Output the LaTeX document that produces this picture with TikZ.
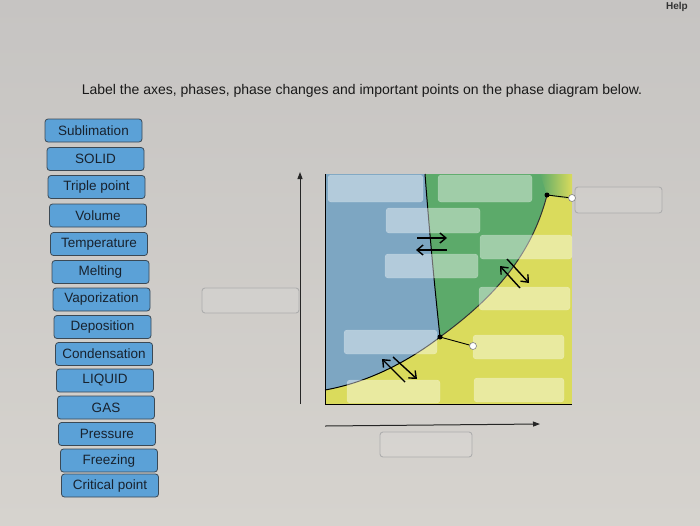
\documentclass[tikz,border=0pt]{standalone}
\usepackage{fontspec}
\setmainfont{Liberation Sans}
\usetikzlibrary{arrows.meta}
\definecolor{bgTop}{HTML}{C6C4C2}
\definecolor{bgMid}{HTML}{DEDCD8}
\definecolor{bgLow}{HTML}{D6D3CE}
\definecolor{btnBlue}{HTML}{5BA1D7}
\definecolor{btnEdge}{HTML}{3B4955}
\definecolor{btnText}{HTML}{18222E}
\definecolor{solidBlue}{HTML}{7DA6C2}
\definecolor{liquidGreen}{HTML}{5CAA6A}
\definecolor{gasYellow}{HTML}{DADB5C}
\colorlet{slotEdge}{black!32}
\tikzset{
  btn/.style={draw=btnEdge, line width=0.8pt, fill=btnBlue, rounded corners=3pt,
    minimum width=97pt, minimum height=23pt, inner sep=0pt, text=btnText,
    font=\fontsize{13.5}{15}\selectfont},
  slot/.style={fill=white, fill opacity=0.42, draw=white, draw opacity=0.3, rounded corners=3pt},
  outslot/.style={draw=slotEdge, line width=0.9pt, fill=white, fill opacity=0.08, rounded corners=3pt},
  curve/.style={black, line width=1pt},
  swap/.style={black, line width=1.4pt, -{Straight Barb[length=6pt,width=10pt]}},
  axis/.style={black!85, line width=1pt, -{Triangle[length=7pt,width=5pt]}},
  pin/.style={circle, draw=gray, fill=white, line width=0.6pt, inner sep=0pt, minimum size=7pt},
  dot/.style={circle, fill=black, inner sep=0pt, minimum size=5pt}
}

\begin{document}
\begin{tikzpicture}[x=1pt, y=-1pt]
  \useasboundingbox (0,0) rectangle (700,525);
  \clip (0,0) rectangle (700,525);
  \shade[top color=bgTop, middle color=bgMid, bottom color=bgLow] (0,0) rectangle (700,525);
  \node[anchor=base, font=\bfseries\fontsize{10}{12}\selectfont, text=black!80] (help) at (677,9) {Help};

  \node[font=\fontsize{14}{16}\selectfont, text=black!90] (task) at (362,91)
    {Label the axes, phases, phase changes and important points on the phase diagram below.};

  % answer buttons
  \node[btn] (sublimation) at (93.5,130.5) {Sublimation};
  \node[btn] (solid) at (95.5,159) {SOLID};
  \node[btn] (triple) at (96.5,187) {Triple point};
  \node[btn] (volume) at (98,215.5) {Volume};
  \node[btn] (temperature) at (99,244) {Temperature};
  \node[btn] (melting) at (100.5,272) {Melting};
  \node[btn] (vaporization) at (101.5,299.5) {Vaporization};
  \node[btn] (deposition) at (102.5,327) {Deposition};
  \node[btn] (condensation) at (104,354) {Condensation};
  \node[btn] (liquid) at (105,380.5) {LIQUID};
  \node[btn] (gas) at (106,407.5) {GAS};
  \node[btn] (pressure) at (107,434) {Pressure};
  \node[btn] (freezing) at (109,460.5) {Freezing};
  \node[btn] (critical) at (110,485.5) {Critical point};

  % phase regions
  \coordinate (tp) at (440,337);
  \coordinate (cp) at (547,195);
  \fill[gasYellow] (325,174) rectangle (572,404);
  \fill[solidBlue] (325,174) -- (425,174) .. controls (430,240) and (436,300) .. (tp)
    .. controls (410,360) and (370,382) .. (325,390) -- cycle;
  \fill[liquidGreen] (425,174) -- (552,174) -- (cp)
    .. controls (530,262) and (485,304) .. (tp)
    .. controls (436,300) and (430,240) .. (425,174) -- cycle;
  \shade[left color=liquidGreen, right color=gasYellow] (540,174) -- (572,174) -- (572,200) -- (cp) -- cycle;

  % boundary lines
  \draw[curve] (325,174) -- (325,404) -- (572,404);
  \draw[curve] (425,174) .. controls (430,240) and (436,300) .. (tp);
  \draw[curve] (325,390) .. controls (370,382) and (410,360) .. (tp);
  \draw[curve, black!80] (tp) .. controls (485,304) and (530,262) .. (cp);

  % drop slots
  \path[slot] (328,175) rectangle (423,202);
  \path[slot] (438,175) rectangle (532,202);
  \path[slot] (386,208) rectangle (480,233);
  \path[slot] (480,235) rectangle (572,259);
  \path[slot] (385,254) rectangle (478,278);
  \path[slot] (479,287) rectangle (570,310);
  \path[slot] (344,330) rectangle (437,354);
  \path[slot] (473,335) rectangle (564,359);
  \path[slot] (347,380) rectangle (440,403);
  \path[slot] (474,378) rectangle (564,402);
  \path[outslot] (575,187) rectangle (662,213);
  \path[outslot] (202,288) rectangle (299,313);
  \path[outslot] (380,432) rectangle (472,457);

  % phase change arrows
  \draw[swap] (417,238) -- (447,238);
  \draw[swap] (447,250) -- (416,250);
  \draw[swap] (520,288) -- (500,266);
  \draw[swap] (507,259) -- (529,283);
  \draw[swap] (405,382) -- (382,359);
  \draw[swap] (393,357) -- (417,379);

  % points
  \node[pin] (tppin) at (473,346) {};
  \node[pin] (cppin) at (572,198) {};
  \draw[black, line width=0.9pt] (tp) -- (tppin);
  \draw[black, line width=0.9pt] (cp) -- (cppin);
  \node[dot] (tpdot) at (tp) {};
  \node[dot] (cpdot) at (cp) {};

  % axes
  \coordinate (yfoot) at (300,404);
  \coordinate (ytip) at (300,172);
  \coordinate (xfoot) at (325,426);
  \coordinate (xtip) at (540,424);
  \draw[axis] (yfoot) -- (ytip);
  \draw[axis] (xfoot) -- (xtip);
\end{tikzpicture}
\end{document}
